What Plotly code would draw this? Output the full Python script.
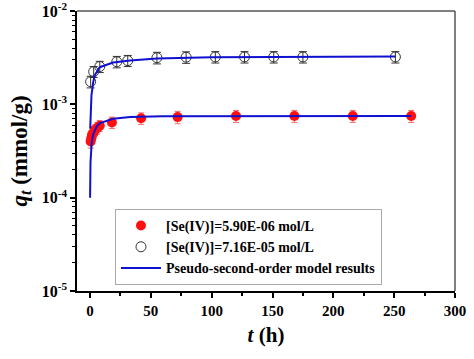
import plotly.graph_objects as go

# ---- data ----
t_low = [0.5, 1, 1.5, 2, 3, 4, 6, 8, 18, 42, 72, 120, 168, 216, 264]
q_low = [4.0e-4, 4.3e-4, 4.6e-4, 4.8e-4, 5.0e-4, 5.3e-4, 5.6e-4, 5.9e-4, 6.4e-4,
         7.1e-4, 7.3e-4, 7.5e-4, 7.5e-4, 7.5e-4, 7.5e-4]
e_low = [0.6e-4, 0.6e-4, 0.6e-4, 0.7e-4, 0.7e-4, 0.7e-4, 0.8e-4, 0.8e-4, 0.9e-4,
         1.0e-4, 1.1e-4, 1.1e-4, 1.1e-4, 1.1e-4, 1.1e-4]

t_high = [0.5, 3, 8, 22, 31, 55, 79, 103, 127, 151, 175, 251]
q_high = [1.75e-3, 2.24e-3, 2.54e-3, 2.86e-3, 2.94e-3, 3.16e-3, 3.2e-3, 3.22e-3,
          3.22e-3, 3.22e-3, 3.22e-3, 3.22e-3]
e_high = [2.5e-4, 3.0e-4, 3.5e-4, 4.0e-4, 4.0e-4, 4.5e-4, 4.5e-4, 4.5e-4,
          4.5e-4, 4.5e-4, 4.5e-4, 4.5e-4]

# model curves (read as polylines)
t_fit_low = [0.05, 0.4, 1.4, 2.7, 5.5, 8.2, 19, 33, 60, 120, 200, 264]
q_fit_low = [1.0e-4, 2.4e-4, 3.9e-4, 4.8e-4, 5.8e-4, 6.3e-4, 7.0e-4, 7.3e-4,
             7.45e-4, 7.5e-4, 7.5e-4, 7.5e-4]
t_fit_high = [0.15, 1.2, 2.5, 4, 8, 19, 33, 55, 100, 150, 200, 251]
q_fit_high = [5.5e-4, 1.25e-3, 1.7e-3, 2.06e-3, 2.5e-3, 2.8e-3, 2.95e-3, 3.1e-3,
              3.2e-3, 3.23e-3, 3.24e-3, 3.25e-3]

x_ticks = [0, 50, 100, 150, 200, 250, 300]
y_ticks = [1e-5, 1e-4, 1e-3, 1e-2]
y_tick_text = ["<b>10<sup>-5</sup></b>", "<b>10<sup>-4</sup></b>",
               "<b>10<sup>-3</sup></b>", "<b>10<sup>-2</sup></b>"]
y_minor = [m * 10 ** e for e in (-5, -4, -3) for m in range(2, 10)]

label_low = "[Se(IV)]=5.90E-06 mol/L"
label_high = "[Se(IV)]=7.16E-05 mol/L"
label_fit = "Pseudo-second-order model results"

BLUE = "#1010D0"
FONT = "Liberation Serif"

fig = go.Figure()

fig.add_trace(go.Scatter(
    x=t_low, y=q_low, mode="markers", name="<b>%s</b>" % label_low,
    marker=dict(symbol="circle", size=10, color="#FF1010",
                line=dict(width=0)),
    error_y=dict(type="data", array=e_low, color="#F07070",
                 thickness=1, width=3)))
fig.add_trace(go.Scatter(
    x=t_high, y=q_high, mode="markers", name="<b>%s</b>" % label_high,
    marker=dict(symbol="circle-open", size=10, color="#333333",
                line=dict(width=1)),
    error_y=dict(type="data", array=e_high, color="#333333",
                 thickness=1, width=4)))
fig.add_trace(go.Scatter(
    x=t_fit_low, y=q_fit_low, mode="lines",
    line=dict(color=BLUE, width=2), showlegend=False, hoverinfo="skip"))
fig.add_trace(go.Scatter(
    x=t_fit_high, y=q_fit_high, mode="lines",
    line=dict(color=BLUE, width=2), showlegend=False, hoverinfo="skip"))
fig.add_trace(go.Scatter(
    x=[None], y=[None], mode="lines", name="<b>%s</b>" % label_fit,
    line=dict(color=BLUE, width=2)))

fig.update_layout(
    width=474, height=359,
    margin=dict(l=77, r=19, t=11, b=68),
    paper_bgcolor="white", plot_bgcolor="white",
    font=dict(family=FONT, color="black"),
    legend=dict(
        x=0.1005, y=0.293, xanchor="left", yanchor="top",
        bgcolor="white", bordercolor="#AAAAAA", borderwidth=1,
        font=dict(family=FONT, size=14, color="black"),
        itemwidth=40, tracegroupgap=0),
    xaxis=dict(
        range=[-10.7, 300], tickvals=x_ticks, automargin=False,
        ticktext=["<b>%d</b>" % v for v in x_ticks],
        ticklabeloverflow="allow",
        ticks="outside", ticklen=5, tickwidth=1.5, tickcolor="black",
        showline=True, linecolor="black", linewidth=1.5, mirror=False,
        showgrid=False, zeroline=False,
        tickfont=dict(family=FONT, size=15),
        minor=dict(dtick=25, tick0=0, ticks="outside", ticklen=3,
                   tickcolor="black", tickwidth=1.5, showgrid=False),
        title=dict(text="<b><i>t</i> (h)</b>", font=dict(family=FONT, size=21),
                   standoff=10)),
    yaxis=dict(
        type="log", range=[-5, -2], tickvals=y_ticks, ticktext=y_tick_text,
        automargin=False, ticklabeloverflow="allow",
        ticks="outside", ticklen=5, tickwidth=1.5, tickcolor="black",
        showline=True, linecolor="black", linewidth=1.5, mirror=False,
        showgrid=False, zeroline=False,
        tickfont=dict(family=FONT, size=16),
        minor=dict(tickvals=y_minor, ticks="outside", ticklen=3,
                   tickcolor="black", tickwidth=1, showgrid=False),
        title=dict(text="<b><i>q<sub>t</sub></i> (mmol/g)</b>",
                   font=dict(family=FONT, size=23), standoff=8)),
)

# top and right frame lines (grey)
fig.add_shape(type="line", xref="paper", yref="paper", x0=0, x1=1, y0=1, y1=1,
              line=dict(color="#555555", width=1.5))
fig.add_shape(type="line", xref="paper", yref="paper", x0=1, x1=1, y0=0, y1=1,
              line=dict(color="#555555", width=1.5))

fig.write_html(
    "out.html",
    config={"displayModeBar": False},
    post_script="document.body.style.margin='0';"
                "document.body.style.overflow='hidden';")
